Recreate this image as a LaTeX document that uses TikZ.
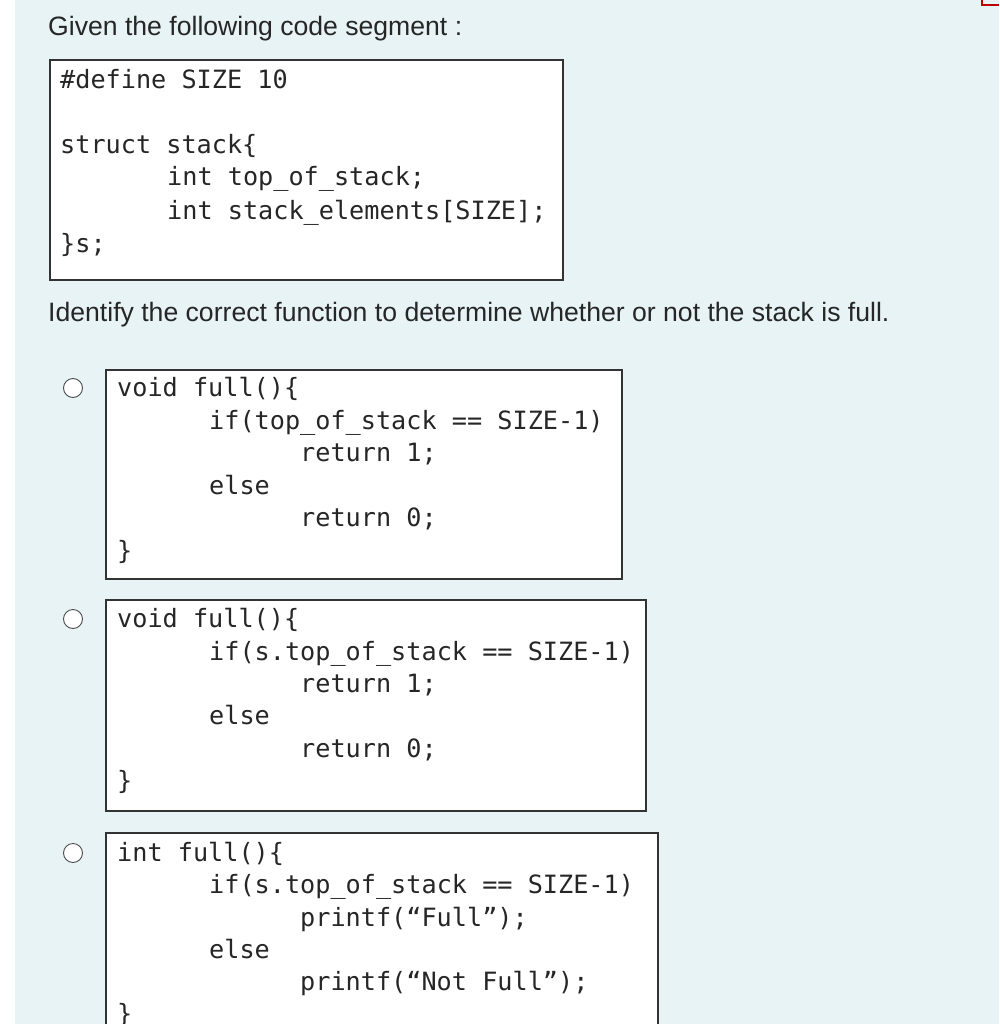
\documentclass[tikz,border=0pt]{standalone}
\usepackage{fontspec}
\setmainfont{Liberation Sans}
\setmonofont{DejaVu Sans Mono}
\definecolor{bg}{HTML}{E7F3F5}
\begin{document}
\begin{tikzpicture}[x=1pt,y=-1pt,
  prose/.style={anchor=base west,inner sep=0,font=\fontsize{26.6}{28}\selectfont,text=black!85},
  code/.style={anchor=base west,inner sep=0,font=\ttfamily\fontsize{25.2}{27}\selectfont,text=black!85},
  cbox/.style={draw=black!80,line width=1.1pt,fill=white},
  radio/.style={circle,draw=black!70,line width=0.9pt,fill=white,minimum size=19pt,inner sep=0}]
\useasboundingbox (0,0) rectangle (999,1024);
\fill[white] (0,0) rectangle (999,1024);
\fill[bg] (15,0) rectangle (999,1024);
\draw[red!75!black,line width=2pt] (982,0) -- (982,5) -- (999,5);
\node[prose] (t1) at (48,36) {Given the following code segment :};
\node[prose] (t2) at (48,321) {Identify the correct function to determine whether or not the stack is full.};
% box 1
\draw[cbox] (50,60) rectangle (563,280);
\node[code] (a1) at (60,89) {\#define SIZE 10};
\node[code] (a2) at (60,154) {struct stack\{};
\node[code] (a3) at (167,186) {int top\_of\_stack;};
\node[code] (a4) at (167,219) {int stack\_elements[SIZE];};
\node[code] (a5) at (60,252) {\}s;};
% option 1
\node[radio] (r1) at (73,388) {};
\draw[cbox] (106,370) rectangle (622,579);
\node[code] (b1) at (117,396) {void full()\{};
\node[code] (b2) at (209,429) {if(top\_of\_stack == SIZE-1)};
\node[code] (b3) at (300,461) {return 1;};
\node[code] (b4) at (209,494) {else};
\node[code] (b5) at (300,526) {return 0;};
\node[code] (b6) at (117,559) {\}};
% option 2
\node[radio] (r2) at (73,619) {};
\draw[cbox] (106,600) rectangle (646,811);
\node[code] (c1) at (117,627) {void full()\{};
\node[code] (c2) at (209,660) {if(s.top\_of\_stack == SIZE-1)};
\node[code] (c3) at (300,692) {return 1;};
\node[code] (c4) at (209,724) {else};
\node[code] (c5) at (300,757) {return 0;};
\node[code] (c6) at (117,789) {\}};
% option 3
\node[radio] (r3) at (73,853) {};
\draw[cbox] (106,833) rectangle (658,1030);
\node[code] (d1) at (117,861) {int full()\{};
\node[code] (d2) at (209,893) {if(s.top\_of\_stack == SIZE-1)};
\node[code] (d3) at (300,926) {printf(“Full”);};
\node[code] (d4) at (209,958) {else};
\node[code] (d5) at (300,990) {printf(“Not Full”);};
\node[code] (d6) at (117,1022) {\}};
\end{tikzpicture}
\end{document}
